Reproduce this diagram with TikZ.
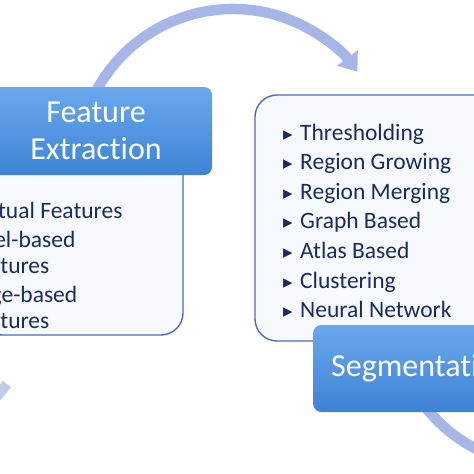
\documentclass[tikz,border=0pt]{standalone}
\usepackage{fontspec}
\setmainfont{Carlito}[Ligatures=NoCommon]
\newfontfamily\symfont{DejaVu Sans}
\usepackage{xcolor}
\usetikzlibrary{arrows.meta, positioning}
\definecolor{hdtop}{HTML}{6AA8EC}
\definecolor{hdbot}{HTML}{3D83D5}
\definecolor{panelfill}{HTML}{F6F9FD}
\definecolor{panelline}{HTML}{4B6CB7}
\definecolor{itemcol}{HTML}{1A2B5F}
\definecolor{flowcol}{HTML}{A6B7E7}
\tikzset{
    header/.style={
        rectangle,
        rounded corners=8pt,
        top color=hdtop,
        bottom color=hdbot,
        text=white,
        inner sep=0pt,
        font=\fontsize{32}{37}\selectfont
    },
    panel/.style={
        rectangle,
        rounded corners=22pt,
        draw=panelline,
        line width=1.4pt,
        fill=panelfill,
        inner sep=0pt
    },
    itemlist/.style={
        text=itemcol,
        align=left,
        inner sep=0pt,
        font=\fontsize{23.5}{29.6}\selectfont
    },
    flow/.style={
        draw=flowcol,
        line width=10.5pt
    },
    flowarrow/.style={
        flow,
        -{Triangle[length=17pt, width=25pt]}
    }
}
\newcommand{\bul}{\makebox[17pt][l]{\symfont\fontsize{19}{19}\selectfont ▸}}

\begin{document}
\begin{tikzpicture}[x=1pt, y=1pt]
\useasboundingbox (0,0) rectangle (474,-474);
\clip (0,0) rectangle (474,-474);

% Arc centres
\coordinate (topc) at (233,-164);
\coordinate (segc) at (547,-311);

% Flow arrows (behind the boxes)
\draw[flowarrow] ([shift={(155:155)}]topc) arc[start angle=155, end angle=36.6, radius=155];
\draw[flow] ([shift={(205:155)}]segc) arc[start angle=205, end angle=268, radius=155];
\coordinate (stubend) at (7,-384);
\draw[flow, draw opacity=0.7] (-22,-419) -- (stubend);

% Feature extraction
\node[panel, minimum width=203pt, minimum height=185pt] (fe_panel) at (81.5,-242.5) {};
\node[header, minimum width=232pt, minimum height=88pt, align=center] (fe_head) at (96,-131) {Feature\\Extraction};
\node[itemlist, anchor=base west, font=\fontsize{23.5}{26}\selectfont] (fe_list) at (-33,-328) {
Textual Features\\[3pt]
Pixel-based\\
Features\\[3pt]
Edge-based\\
Features
};

% Segmentation
\node[panel, minimum width=255pt, minimum height=246pt] (seg_panel) at (382.5,-218) {};
\node[itemlist, anchor=base west] (seg_list) at (283,-317.6) {
\bul Thresholding\\
\bul Region Growing\\
\bul Region Merging\\
\bul Graph Based\\
\bul Atlas Based\\
\bul Clustering\\
\bul Neural Network
};
\node[header, minimum height=87pt, text width=199pt, inner xsep=18pt, align=left, anchor=west] (seg_head) at (313,-368.5) {Segmentation};

\end{tikzpicture}
\end{document}
